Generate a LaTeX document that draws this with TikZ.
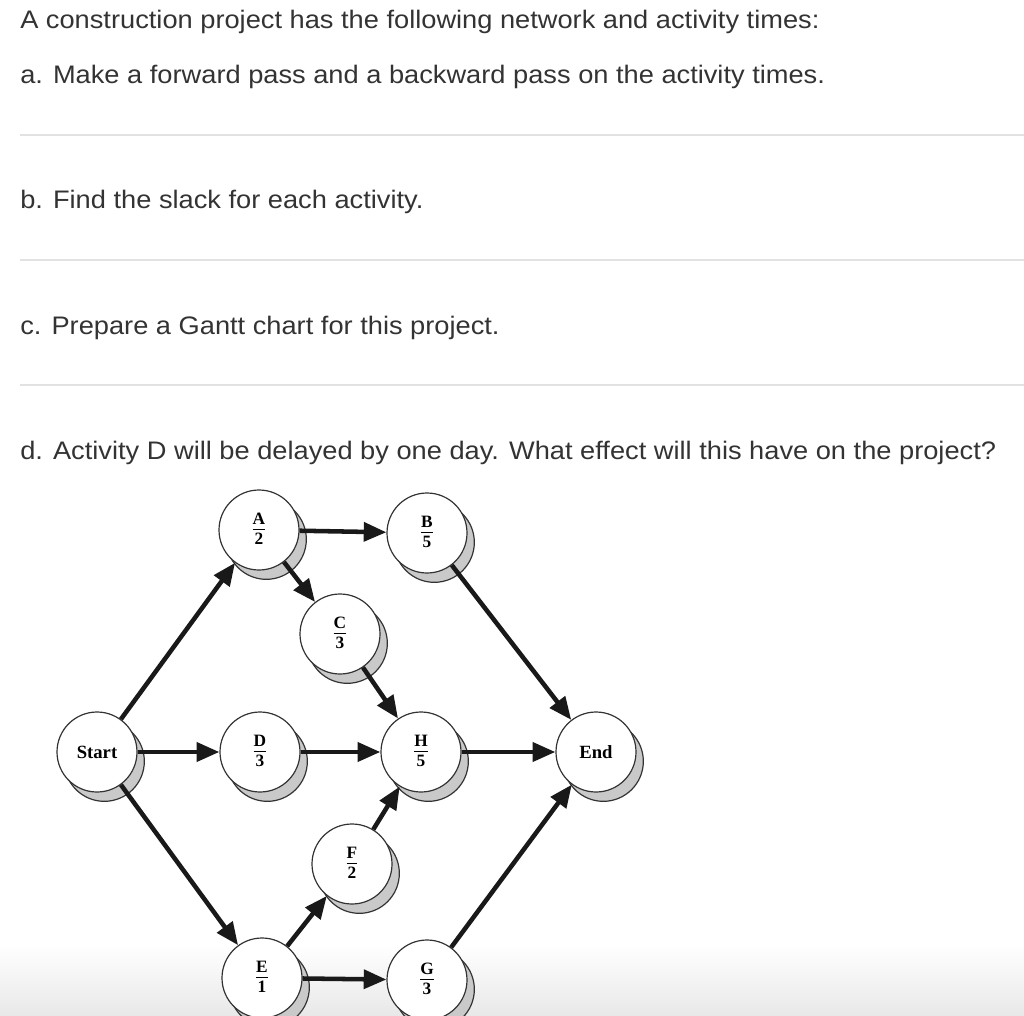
\documentclass[tikz,border=0pt]{standalone}
\usepackage{amsmath}
\usepackage{fontspec}
\setmainfont{Liberation Sans}[FakeStretch=1.075]
\newfontfamily\timesb{Liberation Serif}
\usepackage{tikz}
\usetikzlibrary{arrows.meta,shadows}

\definecolor{texte}{HTML}{333333}
\definecolor{trait}{HTML}{E2E2E2}
\definecolor{ombre}{HTML}{C9C9C9}

\newcommand{\act}[2]{\timesb\bfseries\fontsize{13}{13}\selectfont
  $\genfrac{}{}{0.8pt}{0}{\raisebox{-1.5pt}{#1}}{\raisebox{1.5pt}{#2}}$}

\begin{document}
\begin{tikzpicture}[x=0.75pt, y=-0.75pt,
    question/.style={anchor=base west, inner sep=0, text=texte,
      font=\fontsize{19}{22}\selectfont},
    noeud/.style={circle, draw=black!80, line width=0.9pt, fill=white,
      minimum size=60pt, inner sep=0,
      drop shadow={shadow xshift=5.5pt, shadow yshift=-7pt, fill=ombre,
        draw=black!80, opacity=1, line width=0.9pt}},
    bord/.style={font=\timesb\bfseries\fontsize{14}{14}\selectfont},
    fleche/.style={draw=black!90, line width=3.4pt,
      -{Triangle[length=17pt, width=14pt]}}]
    \useasboundingbox (0, 0) rectangle (1024, 1016);

    % fond en bas
    \shade[top color=white, bottom color=black!9, draw=none] (0, 945) rectangle (1024, 1016);

    % questions
    \node[question] (q0) at (20, 29) {A construction project has the following network and activity times:};
    \node[question] (qa) at (20, 84) {a. Make a forward pass and a backward pass on the activity times.};
    \draw[draw=trait, line width=1pt] (20, 135) -- (1024, 135);
    \node[question] (qb) at (20, 209) {b. Find the slack for each activity.};
    \draw[draw=trait, line width=1pt] (20, 260) -- (1024, 260);
    \node[question] (qc) at (20, 334) {c. Prepare a Gantt chart for this project.};
    \draw[draw=trait, line width=1pt] (20, 385) -- (1024, 385);
    \node[question] (qd) at (20, 459) {d. Activity D will be delayed by one day. What effect will this have on the project?};

    % reseau
    \node[noeud, bord] (start) at (97, 752) {Start};
    \node[noeud] (A) at (259, 530) {\act{A}{2}};
    \node[noeud] (B) at (427, 533) {\act{B}{5}};
    \node[noeud] (C) at (340, 634) {\act{C}{3}};
    \node[noeud] (D) at (260, 752) {\act{D}{3}};
    \node[noeud] (H) at (421, 752) {\act{H}{5}};
    \node[noeud] (F) at (352, 864) {\act{F}{2}};
    \node[noeud] (E) at (262, 978) {\act{E}{1}};
    \node[noeud] (G) at (427, 980) {\act{G}{3}};
    \node[noeud, bord] (end) at (596, 752) {End};

    % fleches
    \draw[fleche] (start) -- (A);
    \draw[fleche] (start) -- (D);
    \draw[fleche] (start) -- (E);
    \draw[fleche] (A) -- (B);
    \draw[fleche] (A) -- (C);
    \draw[fleche] (B) -- (end);
    \draw[fleche] (C) -- (H);
    \draw[fleche] (D) -- (H);
    \draw[fleche] (H) -- (end);
    \draw[fleche] (F) -- (H);
    \draw[fleche] (E) -- (F);
    \draw[fleche] (E) -- (G);
    \draw[fleche] (G) -- (end);

  \end{tikzpicture}
\end{document}
